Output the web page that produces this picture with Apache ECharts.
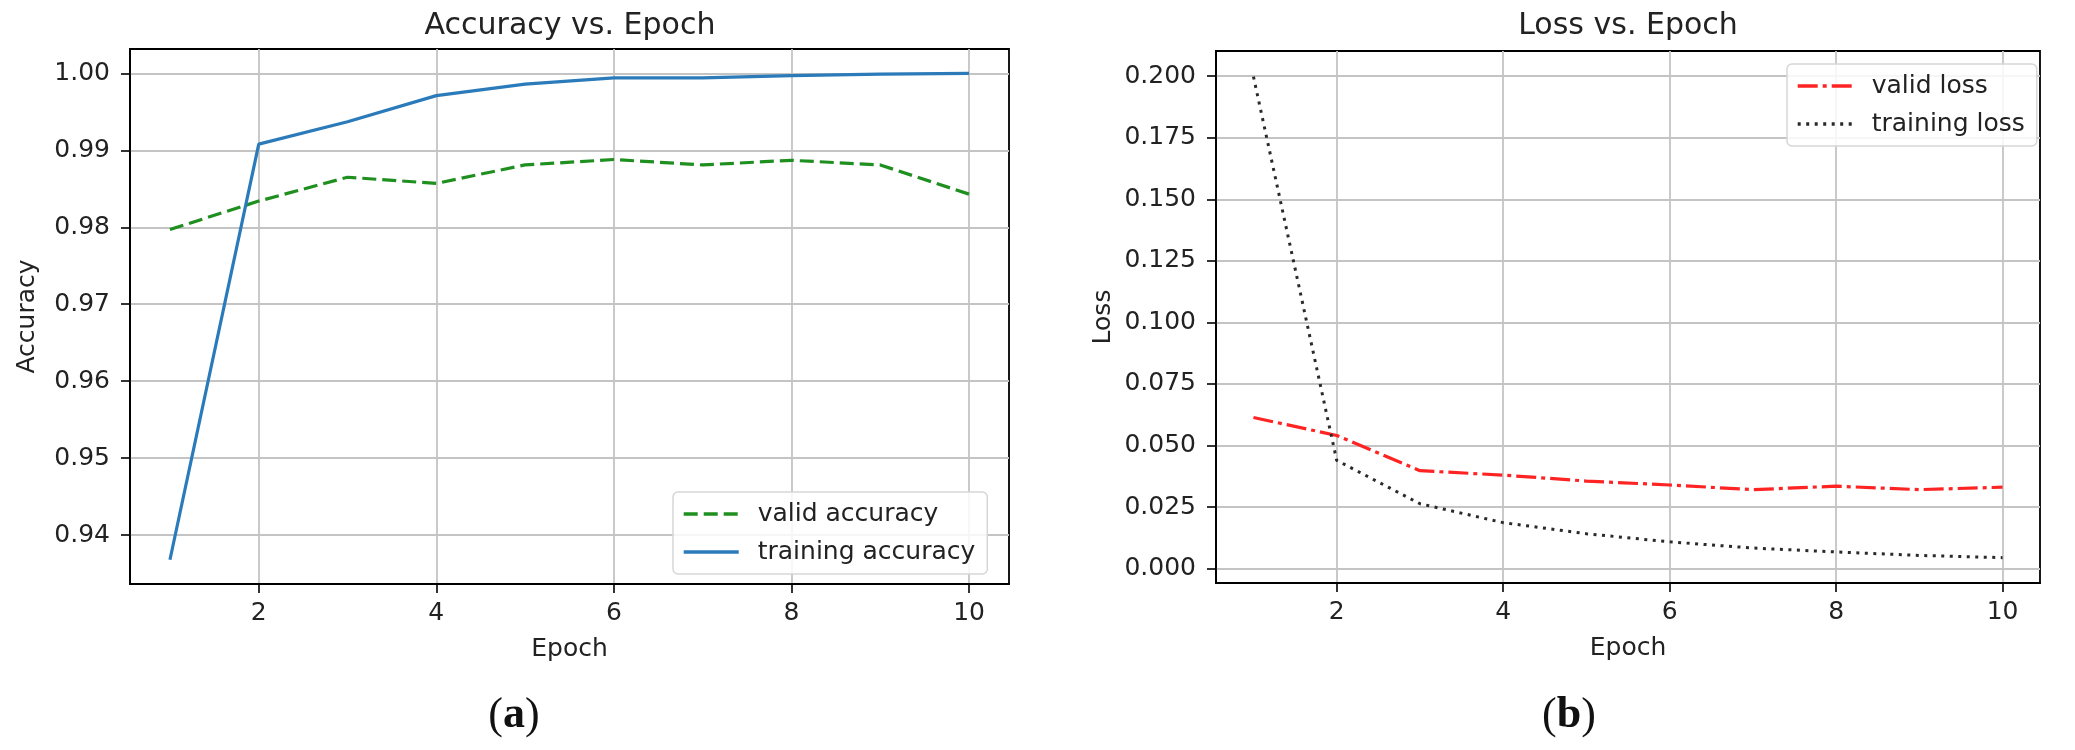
<!DOCTYPE html>
<html>
<head>
<meta charset="utf-8">
<script src="https://cdn.jsdelivr.net/npm/echarts@6/dist/echarts.min.js"></script>
<style>
html,body{margin:0;padding:0;background:#fff;}
#chart{width:2075px;height:750px;}
</style>
</head>
<body>
<div id="chart"></div>
<script>
const epochs = [1, 2, 3, 4, 5, 6, 7, 8, 9, 10];
const validAccuracy = [0.9797, 0.9834, 0.9865, 0.9857, 0.9881, 0.9888, 0.9881, 0.9887, 0.9881, 0.9843];
const trainingAccuracy = [0.9368, 0.9908, 0.9937, 0.9971, 0.9986, 0.9994, 0.9994, 0.9997, 0.9999, 1.0000];
const validLoss = [0.0614, 0.0541, 0.0398, 0.0380, 0.0356, 0.0340, 0.0321, 0.0335, 0.0321, 0.0331];
const trainingLoss = [0.1998, 0.0440, 0.0264, 0.0187, 0.0142, 0.0109, 0.0084, 0.0068, 0.0054, 0.0045];
const xTicks = [2, 4, 6, 8, 10];
const accTicks = [0.94, 0.95, 0.96, 0.97, 0.98, 0.99, 1.00];
const lossTicks = [0.000, 0.025, 0.050, 0.075, 0.100, 0.125, 0.150, 0.175, 0.200];

const FONT = 'DejaVu Sans';
const TXT = '#222';
const GRIDC = '#c4c4c4';

function pairs(xs, ys) { return xs.map((x, i) => [x, ys[i]]); }

function xAxisCfg(gridIndex) {
  return {
    type: 'value', gridIndex: gridIndex, min: 0.55, max: 10.45,
    name: 'Epoch', nameLocation: 'middle', nameGap: 53,
    nameTextStyle: { fontFamily: FONT, fontSize: 25, color: TXT },
    axisLine: { show: true, onZero: false, lineStyle: { color: '#000', width: 1.8 } },
    axisTick: { show: true, length: 9, customValues: xTicks, lineStyle: { color: '#000', width: 1.6 } },
    axisLabel: { customValues: xTicks, margin: 17, fontFamily: FONT, fontSize: 25, color: TXT },
    splitLine: { show: true, lineStyle: { color: GRIDC, width: 1.8 } }
  };
}
function yAxisCfg(gridIndex, name, min, max, ticks, dec, gap) {
  return {
    type: 'value', gridIndex: gridIndex, min: min, max: max,
    name: name, nameLocation: 'middle', nameGap: gap,
    nameTextStyle: { fontFamily: FONT, fontSize: 25, color: TXT },
    axisLine: { show: true, lineStyle: { color: '#000', width: 1.8 } },
    axisTick: { show: true, length: 9, customValues: ticks, lineStyle: { color: '#000', width: 1.6 } },
    axisLabel: { customValues: ticks, margin: 20, fontFamily: FONT, fontSize: 25, color: TXT,
                 formatter: v => Number(v).toFixed(dec) },
    splitLine: { show: true, lineStyle: { color: GRIDC, width: 1.8 } }
  };
}
function legendCfg(left, top, names) {
  return {
    data: names, orient: 'vertical', left: left, top: top,
    itemWidth: 55, itemHeight: 2, itemGap: 10,
    padding: [8, 12, 8, 9],
    backgroundColor: 'rgba(255,255,255,0.85)',
    borderColor: '#d6d6d6', borderWidth: 1.5, borderRadius: 5,
    selectedMode: false,
    itemStyle: { opacity: 0 },
    lineStyle: { width: 3.4 },
    textStyle: { fontFamily: FONT, fontSize: 25, color: TXT, lineHeight: 28, padding: [0, 0, 0, 14] }
  };
}
function panelTag(letter, cx) {
  return {
    text: '{p|(}{b|' + letter + '}{p|)}', left: cx, top: 694, textAlign: 'center', padding: 0,
    textStyle: { fontWeight: 'normal', rich: {
      p: { fontFamily: 'Liberation Serif', fontSize: 44, fontWeight: 'normal', color: '#111' },
      b: { fontFamily: 'Liberation Serif', fontSize: 44, fontWeight: 'bold', color: '#111' } } }
  };
}

const chart = echarts.init(document.getElementById('chart'), null, { renderer: 'canvas' });
chart.setOption({
  animation: false,
  backgroundColor: '#fff',
  title: [
    { text: 'Accuracy vs. Epoch', left: 570, top: 11, textAlign: 'center', padding: 0,
      textStyle: { fontFamily: FONT, fontSize: 30, fontWeight: 'normal', color: TXT } },
    { text: 'Loss vs. Epoch', left: 1628, top: 11, textAlign: 'center', padding: 0,
      textStyle: { fontFamily: FONT, fontSize: 30, fontWeight: 'normal', color: TXT } },
    panelTag('a', 514),
    panelTag('b', 1569)
  ],
  grid: [
    { left: 130, right: 1066, top: 49, bottom: 166, show: true, borderColor: '#000', borderWidth: 1.8, backgroundColor: '#fff' },
    { left: 1216, right: 35, top: 51, bottom: 167, show: true, borderColor: '#000', borderWidth: 1.8, backgroundColor: '#fff' }
  ],
  legend: [
    legendCfg(673, 492, ['valid accuracy', 'training accuracy']),
    legendCfg(1787, 64, ['valid loss', 'training loss'])
  ],
  xAxis: [xAxisCfg(0), xAxisCfg(1)],
  yAxis: [
    yAxisCfg(0, 'Accuracy', 0.93365, 1.00316, accTicks, 2, 90),
    yAxisCfg(1, 'Loss', -0.0058, 0.2102, lossTicks, 3, 100)
  ],
  series: [
    { name: 'valid accuracy', type: 'line', xAxisIndex: 0, yAxisIndex: 0, symbol: 'none',
      data: pairs(epochs, validAccuracy), color: '#1f8f1f',
      lineStyle: { color: '#1f8f1f', width: 3.2, type: [14, 6] } },
    { name: 'training accuracy', type: 'line', xAxisIndex: 0, yAxisIndex: 0, symbol: 'none',
      data: pairs(epochs, trainingAccuracy), color: '#2b7bba',
      lineStyle: { color: '#2b7bba', width: 3.2 } },
    { name: 'valid loss', type: 'line', xAxisIndex: 1, yAxisIndex: 1, symbol: 'none',
      data: pairs(epochs, validLoss), color: '#ff2424',
      lineStyle: { color: '#ff2424', width: 3.2, type: [20, 5, 4, 5] } },
    { name: 'training loss', type: 'line', xAxisIndex: 1, yAxisIndex: 1, symbol: 'none',
      data: pairs(epochs, trainingLoss), color: '#2a2a2a',
      lineStyle: { color: '#2a2a2a', width: 3, type: [3, 5.5] } }
  ]
});
</script>
</body>
</html>
